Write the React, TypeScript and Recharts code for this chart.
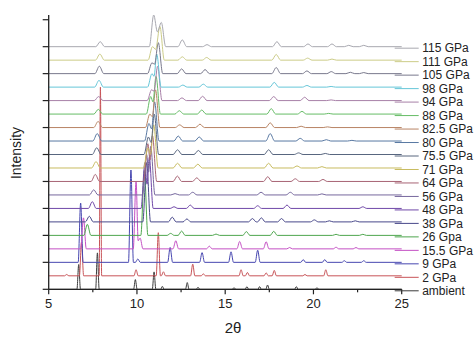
import { LineChart, Line, XAxis, YAxis } from 'recharts';

type Peak = [number, number, number?];

// peaks: [2θ, height above baseline, half width?]
// a half width of 0 marks a plain point (valley between close peaks)
const AMBIENT: Peak[] = [[6.7, 1.84], [7.76, 2.7], [9.91, 0.72], [10.97, 1.29], [11.44, 0.22], [12.85, 0.5], [13.46, 0.15], [15.5, 0.12], [16.23, 0.2], [16.95, 0.2], [17.4, 0.32], [19.03, 0.2], [20.2, 0.12]];
const P2: Peak[] = [[6.02, 0.1], [6.86, 2.5], [7.93, 14.0, 0.07], [9.95, 0.45], [11.21, 3.2], [11.5, 0.3], [13.16, 0.87], [13.76, 0.15], [15.9, 0.45], [16.26, 0.25], [17.32, 0.22], [17.78, 0.4], [19.52, 0.1], [20.7, 0.45]];
const P9: Peak[] = [[6.81, 4.4], [9.66, 6.85], [10.05, 0.25], [11.88, 1.1], [13.69, 0.72], [15.33, 0.78], [16.84, 0.9], [19.42, 0.2], [20.64, 0.2], [21.75, 0.12], [22.85, 0.12]];
const P15_5: Peak[] = [[6.97, 2.3], [9.95, 5.0], [10.07, 0.6, 0], [10.18, 0.8], [12.2, 0.6], [14.1, 0.2], [15.82, 0.55], [17.32, 0.53], [18.65, 0.1], [21.28, 0.12], [22.41, 0.1]];
const P26: Peak[] = [[7.19, 0.82], [10.42, 4.8], [11.91, 0.15], [12.53, 0.32], [14.48, 0.1], [16.2, 0.28], [17.75, 0.3], [21.28, 0.08], [22.8, 0.08]];
const P38: Peak[] = [[7.3, 0.42], [10.55, 4.4], [12.0, 0.35], [12.83, 0.22], [16.54, 0.25], [17.05, 0.3], [18.19, 0.25], [20.05, 0.15], [20.9, 0.08], [22.37, 0.08]];
const P48: Peak[] = [[7.47, 0.5], [10.45, 3.4], [10.57, 1.8, 0], [10.7, 3.8], [12.1, 0.12], [13.02, 0.25], [16.84, 0.2], [18.5, 0.25], [22.8, 0.12]];
const P56: Peak[] = [[7.55, 0.38], [10.55, 3.0], [10.66, 1.7, 0], [10.78, 3.6], [12.16, 0.1], [13.16, 0.2], [17.03, 0.2], [18.69, 0.2], [20.48, 0.08]];
const P64: Peak[] = [[7.64, 0.52], [10.62, 2.8], [10.74, 1.6, 0], [10.88, 3.4], [12.29, 0.4], [13.39, 0.27], [17.41, 0.35], [18.97, 0.2], [20.54, 0.15]];
const P71: Peak[] = [[7.68, 0.47], [10.62, 1.5], [10.77, 1.0, 0], [10.95, 3.2], [12.3, 0.35], [13.45, 0.28], [17.46, 0.35], [19.07, 0.15], [20.48, 0.1]];
const P75_5: Peak[] = [[7.72, 0.5], [10.65, 1.3], [10.8, 0.9, 0], [10.98, 3.0], [12.3, 0.35], [13.48, 0.3], [17.46, 0.35], [19.16, 0.12], [20.67, 0.08]];
const P80: Peak[] = [[7.75, 0.55], [10.68, 1.3], [10.83, 0.9, 0], [11.0, 2.9], [12.34, 0.37], [13.53, 0.3], [17.55, 0.55], [19.25, 0.2], [20.73, 0.1], [22.18, 0.05]];
const P82_5: Peak[] = [[7.8, 0.45], [10.73, 1.0], [10.87, 0.8, 0], [11.05, 2.8], [12.42, 0.2], [13.57, 0.25], [17.55, 0.35], [19.3, 0.1], [20.8, 0.05]];
const P88: Peak[] = [[7.81, 0.35], [10.78, 1.3], [10.91, 0.9, 0], [11.08, 2.8], [12.4, 0.25], [13.67, 0.3], [17.61, 0.4], [19.35, 0.2], [20.86, 0.05]];
const P94: Peak[] = [[7.83, 0.3], [10.83, 0.8], [10.97, 0.7, 0], [11.17, 2.55], [12.55, 0.2], [13.72, 0.32], [17.75, 0.3], [19.5, 0.25], [21.0, 0.05]];
const P98: Peak[] = [[7.85, 0.5], [10.85, 1.0], [10.97, 0.8, 0], [11.12, 2.45], [12.6, 0.15], [13.76, 0.22], [17.78, 0.35], [19.63, 0.12], [21.0, 0.05]];
const P105: Peak[] = [[7.87, 0.55], [10.85, 0.8], [11.0, 0.7, 0], [11.21, 2.3], [12.53, 0.35], [13.86, 0.3], [17.89, 0.45], [19.63, 0.2], [21.01, 0.15], [22.09, 0.1], [22.85, 0.08]];
const P111: Peak[] = [[7.9, 0.45], [10.88, 1.0], [11.06, 0.8, 0], [11.3, 2.5], [12.57, 0.25], [13.95, 0.2], [17.89, 0.42], [19.67, 0.15], [21.05, 0.08]];
const P115: Peak[] = [[7.92, 0.37], [10.95, 2.35], [11.16, 1.1, 0], [11.38, 1.8], [12.57, 0.5], [13.97, 0.15], [17.93, 0.37], [19.69, 0.2], [21.05, 0.2], [22.0, 0.1], [22.85, 0.1]];

const NAMES = ['ambient', '2 GPa', '9 GPa', '15.5 GPa', '26 Gpa', '38 GPa', '48 GPa', '56 GPa', '64 GPa', '71 GPa', '75.5 GPa', '80 GPa', '82.5 GPa', '88 GPa', '94 GPa', '98 GPa', '105 GPa', '111 GPa', '115 GPa'];
const PATTERNS = [AMBIENT, P2, P9, P15_5, P26, P38, P48, P56, P64, P71, P75_5, P80, P82_5, P88, P94, P98, P105, P111, P115];
const WIDTHS = [0.1, 0.12, 0.14, 0.16, 0.2, 0.22, 0.22, 0.24, 0.24, 0.25, 0.25, 0.25, 0.25, 0.25, 0.25, 0.25, 0.25, 0.25, 0.25];
const COLORS = ['#3a3a3a', '#c85458', '#4646b0', '#c450c4', '#4ea64e', '#48488a', '#7048a8', '#76689e', '#a86474', '#c8bc60', '#58667f', '#5878a2', '#b88464', '#66bc66', '#a880a8', '#66c6d8', '#78788c', '#cccc88', '#a8a8b0'];

const X_TICKS = [5, 7.5, 10, 12.5, 15, 17.5, 20, 22.5, 25];
const Y_TICKS = Array.from({ length: 21 }, (_, i) => i);

const FONT = '"Liberation Sans", Arial, sans-serif';

function buildPoints(peaks: Peak[], w0: number, offset: number) {
  const list = [...peaks].sort((a, b) => a[0] - b[0]);
  const pts: { x: number; y: number }[] = [{ x: 5, y: offset }];
  const leftEdge = (pk: Peak) => (pk[2] === 0 ? pk[0] : pk[0] - (pk[2] ?? w0));
  list.forEach((pk, i) => {
    const [p, h, w = w0] = pk;
    const last = pts[pts.length - 1].x;
    if (w === 0) {
      pts.push({ x: p, y: offset + h });
      return;
    }
    if (p - w > last) pts.push({ x: p - w, y: offset });
    pts.push({ x: p, y: offset + h });
    const next = list[i + 1];
    if (!next || leftEdge(next) > p + w) pts.push({ x: p + w, y: offset });
  });
  pts.push({ x: 25, y: offset });
  return pts;
}

const SERIES = NAMES.map((name, i) => ({
  name,
  color: COLORS[i],
  points: buildPoints(PATTERNS[i], WIDTHS[i], i),
}));

const XTick = (props: any) => {
  const { x, y, payload } = props;
  const major = payload.value % 5 === 0;
  return (
    <g>
      <line x1={x} x2={x} y1={y} y2={y + (major ? 5 : 3)} stroke="#222" strokeWidth={1.2} />
      {major && (
        <text x={x} y={y + 19} textAnchor="middle" fontSize={13} fill="#222" fontFamily={FONT}>
          {payload.value}
        </text>
      )}
    </g>
  );
};

const YTick = (props: any) => {
  const { x, y, payload } = props;
  const major = payload.value % 2 === 0;
  return <line x1={x - (major ? 6 : 4)} x2={x} y1={y} y2={y} stroke="#222" strokeWidth={1.2} />;
};

const endLabel = (name: string, color: string, n: number) => (p: any) => {
  if (p.index !== n - 1) return <g />;
  const y = p.y + 1.5;
  return (
    <g>
      <line x1={p.x - 7} x2={p.x + 17} y1={y} y2={y} stroke={color} strokeWidth={1} />
      <text x={p.x + 20.5} y={y} dy="0.35em" fontSize={12} fill="#222" fontFamily={FONT}>
        {name}
      </text>
    </g>
  );
};

export default function App() {
  return (
    <div style={{ position: 'absolute', left: 0, top: 0, width: 474, height: 338, background: '#fff' }}>
      <LineChart width={474} height={338} margin={{ top: 15, right: 72.3, bottom: 18.7, left: 0 }}>
        <XAxis
          dataKey="x"
          type="number"
          domain={[5, 25]}
          ticks={X_TICKS}
          tickSize={0}
          tickMargin={0}
          tick={<XTick />}
          height={30}
          stroke="#222"
          strokeWidth={1.3}
        />
        <YAxis
          type="number"
          domain={[0, 20.3]}
          ticks={Y_TICKS}
          tickSize={0}
          tickMargin={0}
          tick={<YTick />}
          width={48.7}
          stroke="#222"
          strokeWidth={1.3}
        />
        {SERIES.map(s => (
          <Line
            key={s.name}
            data={s.points}
            dataKey="y"
            type="monotone"
            stroke={s.color}
            strokeWidth={1}
            dot={false}
            activeDot={false}
            isAnimationActive={false}
            label={endLabel(s.name, s.color, s.points.length)}
          />
        ))}
      </LineChart>
      <div
        style={{
          position: 'absolute',
          left: 16,
          top: 153,
          transform: 'translate(-50%, -50%) rotate(-90deg)',
          fontFamily: FONT,
          fontSize: 14,
          color: '#222',
          whiteSpace: 'nowrap',
        }}
      >
        Intensity
      </div>
      <div
        style={{
          position: 'absolute',
          left: 233,
          top: 327,
          transform: 'translate(-50%, -50%)',
          fontFamily: FONT,
          fontSize: 15,
          color: '#222',
          whiteSpace: 'nowrap',
        }}
      >
        2θ
      </div>
    </div>
  );
}
